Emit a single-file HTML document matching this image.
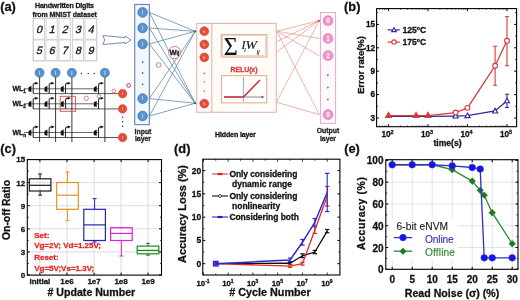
<!DOCTYPE html>
<html><head><meta charset="utf-8"><style>
html,body{margin:0;padding:0;background:#fff;}
svg{display:block;filter:blur(0.3px);}
text{font-family:"Liberation Sans", Arial, sans-serif;}
</style></head><body>
<svg width="520" height="300" viewBox="0 0 520 300">
<rect width="520" height="300" fill="#fff"/>
<rect x="376.60" y="8.60" width="140.00" height="118.10" stroke="#000" stroke-width="1.1" fill="none" />
<line x1="376.60" y1="118.00" x2="379.10" y2="118.00" stroke="#000" stroke-width="1" />
<line x1="516.60" y1="118.00" x2="514.10" y2="118.00" stroke="#000" stroke-width="1" />
<text x="375.00" y="120.70" font-size="8.2" text-anchor="end" fill="#111" font-weight="bold" stroke="#111" stroke-width="0.28" >3</text>
<line x1="376.60" y1="94.60" x2="379.10" y2="94.60" stroke="#000" stroke-width="1" />
<line x1="516.60" y1="94.60" x2="514.10" y2="94.60" stroke="#000" stroke-width="1" />
<text x="375.00" y="97.30" font-size="8.2" text-anchor="end" fill="#111" font-weight="bold" stroke="#111" stroke-width="0.28" >6</text>
<line x1="376.60" y1="71.20" x2="379.10" y2="71.20" stroke="#000" stroke-width="1" />
<line x1="516.60" y1="71.20" x2="514.10" y2="71.20" stroke="#000" stroke-width="1" />
<text x="375.00" y="73.90" font-size="8.2" text-anchor="end" fill="#111" font-weight="bold" stroke="#111" stroke-width="0.28" >9</text>
<line x1="376.60" y1="47.80" x2="379.10" y2="47.80" stroke="#000" stroke-width="1" />
<line x1="516.60" y1="47.80" x2="514.10" y2="47.80" stroke="#000" stroke-width="1" />
<text x="375.00" y="50.50" font-size="8.2" text-anchor="end" fill="#111" font-weight="bold" stroke="#111" stroke-width="0.28" >12</text>
<line x1="376.60" y1="24.40" x2="379.10" y2="24.40" stroke="#000" stroke-width="1" />
<line x1="516.60" y1="24.40" x2="514.10" y2="24.40" stroke="#000" stroke-width="1" />
<text x="375.00" y="27.10" font-size="8.2" text-anchor="end" fill="#111" font-weight="bold" stroke="#111" stroke-width="0.28" >15</text>
<line x1="376.60" y1="106.30" x2="378.10" y2="106.30" stroke="#000" stroke-width="0.8" />
<line x1="516.60" y1="106.30" x2="515.10" y2="106.30" stroke="#000" stroke-width="0.8" />
<line x1="376.60" y1="82.90" x2="378.10" y2="82.90" stroke="#000" stroke-width="0.8" />
<line x1="516.60" y1="82.90" x2="515.10" y2="82.90" stroke="#000" stroke-width="0.8" />
<line x1="376.60" y1="59.50" x2="378.10" y2="59.50" stroke="#000" stroke-width="0.8" />
<line x1="516.60" y1="59.50" x2="515.10" y2="59.50" stroke="#000" stroke-width="0.8" />
<line x1="376.60" y1="36.10" x2="378.10" y2="36.10" stroke="#000" stroke-width="0.8" />
<line x1="516.60" y1="36.10" x2="515.10" y2="36.10" stroke="#000" stroke-width="0.8" />
<line x1="376.60" y1="12.70" x2="378.10" y2="12.70" stroke="#000" stroke-width="0.8" />
<line x1="516.60" y1="12.70" x2="515.10" y2="12.70" stroke="#000" stroke-width="0.8" />
<line x1="388.50" y1="126.70" x2="388.50" y2="124.20" stroke="#000" stroke-width="1" />
<line x1="388.50" y1="8.60" x2="388.50" y2="11.10" stroke="#000" stroke-width="1" />
<text x="387.50" y="137.30" font-size="8.2" text-anchor="middle" fill="#111" font-weight="bold" stroke="#111" stroke-width="0.28" >10<tspan font-size="5.5" dy="-3.5">2</tspan></text>
<line x1="428.00" y1="126.70" x2="428.00" y2="124.20" stroke="#000" stroke-width="1" />
<line x1="428.00" y1="8.60" x2="428.00" y2="11.10" stroke="#000" stroke-width="1" />
<text x="427.00" y="137.30" font-size="8.2" text-anchor="middle" fill="#111" font-weight="bold" stroke="#111" stroke-width="0.28" >10<tspan font-size="5.5" dy="-3.5">3</tspan></text>
<line x1="467.50" y1="126.70" x2="467.50" y2="124.20" stroke="#000" stroke-width="1" />
<line x1="467.50" y1="8.60" x2="467.50" y2="11.10" stroke="#000" stroke-width="1" />
<text x="466.50" y="137.30" font-size="8.2" text-anchor="middle" fill="#111" font-weight="bold" stroke="#111" stroke-width="0.28" >10<tspan font-size="5.5" dy="-3.5">4</tspan></text>
<line x1="507.00" y1="126.70" x2="507.00" y2="124.20" stroke="#000" stroke-width="1" />
<line x1="507.00" y1="8.60" x2="507.00" y2="11.10" stroke="#000" stroke-width="1" />
<text x="506.00" y="137.30" font-size="8.2" text-anchor="middle" fill="#111" font-weight="bold" stroke="#111" stroke-width="0.28" >10<tspan font-size="5.5" dy="-3.5">5</tspan></text>
<line x1="376.61" y1="126.70" x2="376.61" y2="125.40" stroke="#000" stroke-width="0.6" />
<line x1="376.61" y1="8.60" x2="376.61" y2="9.90" stroke="#000" stroke-width="0.6" />
<line x1="379.74" y1="126.70" x2="379.74" y2="125.40" stroke="#000" stroke-width="0.6" />
<line x1="379.74" y1="8.60" x2="379.74" y2="9.90" stroke="#000" stroke-width="0.6" />
<line x1="382.38" y1="126.70" x2="382.38" y2="125.40" stroke="#000" stroke-width="0.6" />
<line x1="382.38" y1="8.60" x2="382.38" y2="9.90" stroke="#000" stroke-width="0.6" />
<line x1="384.67" y1="126.70" x2="384.67" y2="125.40" stroke="#000" stroke-width="0.6" />
<line x1="384.67" y1="8.60" x2="384.67" y2="9.90" stroke="#000" stroke-width="0.6" />
<line x1="386.69" y1="126.70" x2="386.69" y2="125.40" stroke="#000" stroke-width="0.6" />
<line x1="386.69" y1="8.60" x2="386.69" y2="9.90" stroke="#000" stroke-width="0.6" />
<line x1="400.39" y1="126.70" x2="400.39" y2="125.40" stroke="#000" stroke-width="0.6" />
<line x1="400.39" y1="8.60" x2="400.39" y2="9.90" stroke="#000" stroke-width="0.6" />
<line x1="407.35" y1="126.70" x2="407.35" y2="125.40" stroke="#000" stroke-width="0.6" />
<line x1="407.35" y1="8.60" x2="407.35" y2="9.90" stroke="#000" stroke-width="0.6" />
<line x1="412.28" y1="126.70" x2="412.28" y2="125.40" stroke="#000" stroke-width="0.6" />
<line x1="412.28" y1="8.60" x2="412.28" y2="9.90" stroke="#000" stroke-width="0.6" />
<line x1="416.11" y1="126.70" x2="416.11" y2="125.40" stroke="#000" stroke-width="0.6" />
<line x1="416.11" y1="8.60" x2="416.11" y2="9.90" stroke="#000" stroke-width="0.6" />
<line x1="419.24" y1="126.70" x2="419.24" y2="125.40" stroke="#000" stroke-width="0.6" />
<line x1="419.24" y1="8.60" x2="419.24" y2="9.90" stroke="#000" stroke-width="0.6" />
<line x1="421.88" y1="126.70" x2="421.88" y2="125.40" stroke="#000" stroke-width="0.6" />
<line x1="421.88" y1="8.60" x2="421.88" y2="9.90" stroke="#000" stroke-width="0.6" />
<line x1="424.17" y1="126.70" x2="424.17" y2="125.40" stroke="#000" stroke-width="0.6" />
<line x1="424.17" y1="8.60" x2="424.17" y2="9.90" stroke="#000" stroke-width="0.6" />
<line x1="426.19" y1="126.70" x2="426.19" y2="125.40" stroke="#000" stroke-width="0.6" />
<line x1="426.19" y1="8.60" x2="426.19" y2="9.90" stroke="#000" stroke-width="0.6" />
<line x1="439.89" y1="126.70" x2="439.89" y2="125.40" stroke="#000" stroke-width="0.6" />
<line x1="439.89" y1="8.60" x2="439.89" y2="9.90" stroke="#000" stroke-width="0.6" />
<line x1="446.85" y1="126.70" x2="446.85" y2="125.40" stroke="#000" stroke-width="0.6" />
<line x1="446.85" y1="8.60" x2="446.85" y2="9.90" stroke="#000" stroke-width="0.6" />
<line x1="451.78" y1="126.70" x2="451.78" y2="125.40" stroke="#000" stroke-width="0.6" />
<line x1="451.78" y1="8.60" x2="451.78" y2="9.90" stroke="#000" stroke-width="0.6" />
<line x1="455.61" y1="126.70" x2="455.61" y2="125.40" stroke="#000" stroke-width="0.6" />
<line x1="455.61" y1="8.60" x2="455.61" y2="9.90" stroke="#000" stroke-width="0.6" />
<line x1="458.74" y1="126.70" x2="458.74" y2="125.40" stroke="#000" stroke-width="0.6" />
<line x1="458.74" y1="8.60" x2="458.74" y2="9.90" stroke="#000" stroke-width="0.6" />
<line x1="461.38" y1="126.70" x2="461.38" y2="125.40" stroke="#000" stroke-width="0.6" />
<line x1="461.38" y1="8.60" x2="461.38" y2="9.90" stroke="#000" stroke-width="0.6" />
<line x1="463.67" y1="126.70" x2="463.67" y2="125.40" stroke="#000" stroke-width="0.6" />
<line x1="463.67" y1="8.60" x2="463.67" y2="9.90" stroke="#000" stroke-width="0.6" />
<line x1="465.69" y1="126.70" x2="465.69" y2="125.40" stroke="#000" stroke-width="0.6" />
<line x1="465.69" y1="8.60" x2="465.69" y2="9.90" stroke="#000" stroke-width="0.6" />
<line x1="479.39" y1="126.70" x2="479.39" y2="125.40" stroke="#000" stroke-width="0.6" />
<line x1="479.39" y1="8.60" x2="479.39" y2="9.90" stroke="#000" stroke-width="0.6" />
<line x1="486.35" y1="126.70" x2="486.35" y2="125.40" stroke="#000" stroke-width="0.6" />
<line x1="486.35" y1="8.60" x2="486.35" y2="9.90" stroke="#000" stroke-width="0.6" />
<line x1="491.28" y1="126.70" x2="491.28" y2="125.40" stroke="#000" stroke-width="0.6" />
<line x1="491.28" y1="8.60" x2="491.28" y2="9.90" stroke="#000" stroke-width="0.6" />
<line x1="495.11" y1="126.70" x2="495.11" y2="125.40" stroke="#000" stroke-width="0.6" />
<line x1="495.11" y1="8.60" x2="495.11" y2="9.90" stroke="#000" stroke-width="0.6" />
<line x1="498.24" y1="126.70" x2="498.24" y2="125.40" stroke="#000" stroke-width="0.6" />
<line x1="498.24" y1="8.60" x2="498.24" y2="9.90" stroke="#000" stroke-width="0.6" />
<line x1="500.88" y1="126.70" x2="500.88" y2="125.40" stroke="#000" stroke-width="0.6" />
<line x1="500.88" y1="8.60" x2="500.88" y2="9.90" stroke="#000" stroke-width="0.6" />
<line x1="503.17" y1="126.70" x2="503.17" y2="125.40" stroke="#000" stroke-width="0.6" />
<line x1="503.17" y1="8.60" x2="503.17" y2="9.90" stroke="#000" stroke-width="0.6" />
<line x1="505.19" y1="126.70" x2="505.19" y2="125.40" stroke="#000" stroke-width="0.6" />
<line x1="505.19" y1="8.60" x2="505.19" y2="9.90" stroke="#000" stroke-width="0.6" />
<text x="447.50" y="146.00" font-size="8.6" text-anchor="middle" fill="#111" font-weight="bold" stroke="#111" stroke-width="0.28" >time(s)</text>
<text x="0.00" y="0.00" font-size="9.5" text-anchor="middle" fill="#111" font-weight="bold" stroke="#111" stroke-width="0.28" transform="translate(364,65) rotate(-90)" textLength="58">Error rate(%)</text>
<line x1="495.11" y1="85.24" x2="495.11" y2="46.24" stroke="#d83a3a" stroke-width="1.1" />
<line x1="493.11" y1="85.24" x2="497.11" y2="85.24" stroke="#d83a3a" stroke-width="1" />
<line x1="493.11" y1="46.24" x2="497.11" y2="46.24" stroke="#d83a3a" stroke-width="1" />
<line x1="507.00" y1="65.74" x2="507.00" y2="16.60" stroke="#d83a3a" stroke-width="1.1" />
<line x1="505.00" y1="65.74" x2="509.00" y2="65.74" stroke="#d83a3a" stroke-width="1" />
<line x1="505.00" y1="16.60" x2="509.00" y2="16.60" stroke="#d83a3a" stroke-width="1" />
<line x1="507.00" y1="107.47" x2="507.00" y2="94.21" stroke="#2b2b9c" stroke-width="1.1" />
<line x1="505.00" y1="107.47" x2="509.00" y2="107.47" stroke="#2b2b9c" stroke-width="1" />
<line x1="505.00" y1="94.21" x2="509.00" y2="94.21" stroke="#2b2b9c" stroke-width="1" />
<polyline points="388.50,116.44 416.11,116.44 428.00,116.44 455.61,116.05 467.50,115.66 495.11,110.98 507.00,100.84" stroke="#2b2b9c" stroke-width="1.3" fill="none" />
<polygon points="455.61,113.45 458.21,118.00 453.01,118.00" stroke="#2b2b9c" stroke-width="1.1" fill="#fff"/>
<polygon points="467.50,113.06 470.10,117.61 464.90,117.61" stroke="#2b2b9c" stroke-width="1.1" fill="#fff"/>
<polygon points="495.11,108.38 497.71,112.93 492.51,112.93" stroke="#2b2b9c" stroke-width="1.1" fill="#fff"/>
<polygon points="507.00,98.24 509.60,102.79 504.40,102.79" stroke="#2b2b9c" stroke-width="1.1" fill="#fff"/>
<polyline points="388.50,115.66 416.11,115.66 428.00,115.66 455.61,112.54 467.50,107.86 495.11,65.74 507.00,40.78" stroke="#d83a3a" stroke-width="1.3" fill="none" />
<circle cx="455.61" cy="112.54" r="2.40" stroke="#d83a3a" stroke-width="1.1" fill="#fff" />
<circle cx="467.50" cy="107.86" r="2.40" stroke="#d83a3a" stroke-width="1.1" fill="#fff" />
<circle cx="495.11" cy="65.74" r="2.40" stroke="#d83a3a" stroke-width="1.1" fill="#fff" />
<circle cx="507.00" cy="40.78" r="2.40" stroke="#d83a3a" stroke-width="1.1" fill="#fff" />
<polygon points="388.50,112.46 391.40,117.53 385.60,117.53" stroke="#d23a3a" stroke-width="1.1" fill="#d83a3a"/>
<polygon points="416.11,112.46 419.01,117.53 413.21,117.53" stroke="#d23a3a" stroke-width="1.1" fill="#d83a3a"/>
<polygon points="428.00,112.46 430.90,117.53 425.10,117.53" stroke="#d23a3a" stroke-width="1.1" fill="#d83a3a"/>
<line x1="387.60" y1="29.90" x2="399.80" y2="29.90" stroke="#2b2b9c" stroke-width="1.2" />
<polygon points="394.00,27.60 396.30,31.62 391.70,31.62" stroke="#2b2b9c" stroke-width="1.1" fill="#fff"/>
<text x="402.50" y="33.00" font-size="8.6" text-anchor="start" fill="#111" font-weight="bold" stroke="#111" stroke-width="0.28" >125<tspan font-size="5.2" dy="-3.4">o</tspan><tspan dy="3.4">C</tspan></text>
<line x1="387.60" y1="42.10" x2="399.80" y2="42.10" stroke="#d83a3a" stroke-width="1.2" />
<circle cx="394.00" cy="42.10" r="2.20" stroke="#d83a3a" stroke-width="1.1" fill="#fff" />
<text x="402.50" y="45.20" font-size="8.6" text-anchor="start" fill="#111" font-weight="bold" stroke="#111" stroke-width="0.28" >175<tspan font-size="5.2" dy="-3.4">o</tspan><tspan dy="3.4">C</tspan></text>
<text x="344.10" y="10.80" font-size="12.8" text-anchor="start" fill="#111" font-weight="bold" stroke="#111" stroke-width="0.28" >(b)</text>
<line x1="39.90" y1="159.60" x2="39.90" y2="275.10" stroke="#cfcfcf" stroke-width="0.7" />
<line x1="67.00" y1="159.60" x2="67.00" y2="275.10" stroke="#cfcfcf" stroke-width="0.7" />
<line x1="94.10" y1="159.60" x2="94.10" y2="275.10" stroke="#cfcfcf" stroke-width="0.7" />
<line x1="121.10" y1="159.60" x2="121.10" y2="275.10" stroke="#cfcfcf" stroke-width="0.7" />
<line x1="148.10" y1="159.60" x2="148.10" y2="275.10" stroke="#cfcfcf" stroke-width="0.7" />
<line x1="27.30" y1="251.90" x2="161.50" y2="251.90" stroke="#cfcfcf" stroke-width="0.7" />
<line x1="27.30" y1="228.80" x2="161.50" y2="228.80" stroke="#cfcfcf" stroke-width="0.7" />
<line x1="27.30" y1="205.70" x2="161.50" y2="205.70" stroke="#cfcfcf" stroke-width="0.7" />
<line x1="27.30" y1="182.60" x2="161.50" y2="182.60" stroke="#cfcfcf" stroke-width="0.7" />
<rect x="27.30" y="159.60" width="134.20" height="115.50" stroke="#000" stroke-width="1.1" fill="none" />
<line x1="27.30" y1="275.00" x2="29.80" y2="275.00" stroke="#000" stroke-width="1" />
<line x1="161.50" y1="275.00" x2="159.00" y2="275.00" stroke="#000" stroke-width="1" />
<text x="25.20" y="277.90" font-size="8" text-anchor="end" fill="#111" font-weight="bold" stroke="#111" stroke-width="0.28" >0</text>
<line x1="27.30" y1="251.90" x2="29.80" y2="251.90" stroke="#000" stroke-width="1" />
<line x1="161.50" y1="251.90" x2="159.00" y2="251.90" stroke="#000" stroke-width="1" />
<text x="25.20" y="254.80" font-size="8" text-anchor="end" fill="#111" font-weight="bold" stroke="#111" stroke-width="0.28" >3</text>
<line x1="27.30" y1="228.80" x2="29.80" y2="228.80" stroke="#000" stroke-width="1" />
<line x1="161.50" y1="228.80" x2="159.00" y2="228.80" stroke="#000" stroke-width="1" />
<text x="25.20" y="231.70" font-size="8" text-anchor="end" fill="#111" font-weight="bold" stroke="#111" stroke-width="0.28" >6</text>
<line x1="27.30" y1="205.70" x2="29.80" y2="205.70" stroke="#000" stroke-width="1" />
<line x1="161.50" y1="205.70" x2="159.00" y2="205.70" stroke="#000" stroke-width="1" />
<text x="25.20" y="208.60" font-size="8" text-anchor="end" fill="#111" font-weight="bold" stroke="#111" stroke-width="0.28" >9</text>
<line x1="27.30" y1="182.60" x2="29.80" y2="182.60" stroke="#000" stroke-width="1" />
<line x1="161.50" y1="182.60" x2="159.00" y2="182.60" stroke="#000" stroke-width="1" />
<text x="25.20" y="185.50" font-size="8" text-anchor="end" fill="#111" font-weight="bold" stroke="#111" stroke-width="0.28" >12</text>
<line x1="27.30" y1="159.50" x2="29.80" y2="159.50" stroke="#000" stroke-width="1" />
<line x1="161.50" y1="159.50" x2="159.00" y2="159.50" stroke="#000" stroke-width="1" />
<text x="25.20" y="162.40" font-size="8" text-anchor="end" fill="#111" font-weight="bold" stroke="#111" stroke-width="0.28" >15</text>
<line x1="27.30" y1="263.45" x2="28.80" y2="263.45" stroke="#000" stroke-width="0.8" />
<line x1="161.50" y1="263.45" x2="160.00" y2="263.45" stroke="#000" stroke-width="0.8" />
<line x1="27.30" y1="240.35" x2="28.80" y2="240.35" stroke="#000" stroke-width="0.8" />
<line x1="161.50" y1="240.35" x2="160.00" y2="240.35" stroke="#000" stroke-width="0.8" />
<line x1="27.30" y1="217.25" x2="28.80" y2="217.25" stroke="#000" stroke-width="0.8" />
<line x1="161.50" y1="217.25" x2="160.00" y2="217.25" stroke="#000" stroke-width="0.8" />
<line x1="27.30" y1="194.15" x2="28.80" y2="194.15" stroke="#000" stroke-width="0.8" />
<line x1="161.50" y1="194.15" x2="160.00" y2="194.15" stroke="#000" stroke-width="0.8" />
<line x1="27.30" y1="171.05" x2="28.80" y2="171.05" stroke="#000" stroke-width="0.8" />
<line x1="161.50" y1="171.05" x2="160.00" y2="171.05" stroke="#000" stroke-width="0.8" />
<line x1="39.90" y1="159.60" x2="39.90" y2="162.10" stroke="#000" stroke-width="1" />
<line x1="39.90" y1="275.10" x2="39.90" y2="272.60" stroke="#000" stroke-width="1" />
<line x1="67.00" y1="159.60" x2="67.00" y2="162.10" stroke="#000" stroke-width="1" />
<line x1="67.00" y1="275.10" x2="67.00" y2="272.60" stroke="#000" stroke-width="1" />
<line x1="94.10" y1="159.60" x2="94.10" y2="162.10" stroke="#000" stroke-width="1" />
<line x1="94.10" y1="275.10" x2="94.10" y2="272.60" stroke="#000" stroke-width="1" />
<line x1="121.10" y1="159.60" x2="121.10" y2="162.10" stroke="#000" stroke-width="1" />
<line x1="121.10" y1="275.10" x2="121.10" y2="272.60" stroke="#000" stroke-width="1" />
<line x1="148.10" y1="159.60" x2="148.10" y2="162.10" stroke="#000" stroke-width="1" />
<line x1="148.10" y1="275.10" x2="148.10" y2="272.60" stroke="#000" stroke-width="1" />
<text x="39.90" y="284.20" font-size="8" text-anchor="middle" fill="#111" font-weight="bold" stroke="#111" stroke-width="0.28" >initial</text>
<text x="67.00" y="284.20" font-size="8" text-anchor="middle" fill="#111" font-weight="bold" stroke="#111" stroke-width="0.28" >1e6</text>
<text x="94.10" y="284.20" font-size="8" text-anchor="middle" fill="#111" font-weight="bold" stroke="#111" stroke-width="0.28" >1e7</text>
<text x="121.10" y="284.20" font-size="8" text-anchor="middle" fill="#111" font-weight="bold" stroke="#111" stroke-width="0.28" >1e8</text>
<text x="148.10" y="284.20" font-size="8" text-anchor="middle" fill="#111" font-weight="bold" stroke="#111" stroke-width="0.28" >1e9</text>
<text x="91.40" y="296.00" font-size="10.6" text-anchor="middle" fill="#111" font-weight="bold" stroke="#111" stroke-width="0.28" ># Update Number</text>
<text x="0.00" y="0.00" font-size="10.4" text-anchor="middle" fill="#111" font-weight="bold" stroke="#111" stroke-width="0.28" transform="translate(10,210) rotate(-90)">On-off Ratio</text>
<line x1="40.10" y1="174.00" x2="40.10" y2="178.80" stroke="#1a1a1a" stroke-width="1" />
<line x1="40.10" y1="191.00" x2="40.10" y2="195.20" stroke="#1a1a1a" stroke-width="1" />
<line x1="38.10" y1="174.00" x2="42.10" y2="174.00" stroke="#1a1a1a" stroke-width="1" />
<line x1="38.10" y1="195.20" x2="42.10" y2="195.20" stroke="#1a1a1a" stroke-width="1" />
<rect x="29.30" y="178.80" width="21.60" height="12.20" stroke="#1a1a1a" stroke-width="1.2" fill="none" />
<line x1="29.30" y1="185.30" x2="50.90" y2="185.30" stroke="#1a1a1a" stroke-width="1.2" />
<line x1="67.50" y1="172.00" x2="67.50" y2="182.50" stroke="#e8921e" stroke-width="1" />
<line x1="67.50" y1="209.30" x2="67.50" y2="220.70" stroke="#e8921e" stroke-width="1" />
<line x1="65.50" y1="172.00" x2="69.50" y2="172.00" stroke="#e8921e" stroke-width="1" />
<line x1="65.50" y1="220.70" x2="69.50" y2="220.70" stroke="#e8921e" stroke-width="1" />
<rect x="56.70" y="182.50" width="21.60" height="26.80" stroke="#e8921e" stroke-width="1.2" fill="none" />
<line x1="56.70" y1="195.20" x2="78.30" y2="195.20" stroke="#e8921e" stroke-width="1.2" />
<line x1="94.60" y1="198.60" x2="94.60" y2="209.30" stroke="#2424b8" stroke-width="1" />
<line x1="94.60" y1="240.50" x2="94.60" y2="242.00" stroke="#2424b8" stroke-width="1" />
<line x1="92.60" y1="198.60" x2="96.60" y2="198.60" stroke="#2424b8" stroke-width="1" />
<line x1="92.60" y1="242.00" x2="96.60" y2="242.00" stroke="#2424b8" stroke-width="1" />
<rect x="83.80" y="209.30" width="21.60" height="31.20" stroke="#2424b8" stroke-width="1.2" fill="none" />
<line x1="83.80" y1="224.90" x2="105.40" y2="224.90" stroke="#2424b8" stroke-width="1.2" />
<line x1="121.40" y1="227.70" x2="121.40" y2="227.70" stroke="#e020e0" stroke-width="1" />
<line x1="121.40" y1="240.50" x2="121.40" y2="256.00" stroke="#e020e0" stroke-width="1" />
<line x1="119.40" y1="227.70" x2="123.40" y2="227.70" stroke="#e020e0" stroke-width="1" />
<line x1="119.40" y1="256.00" x2="123.40" y2="256.00" stroke="#e020e0" stroke-width="1" />
<rect x="110.60" y="227.70" width="21.60" height="12.80" stroke="#e020e0" stroke-width="1.2" fill="none" />
<line x1="110.60" y1="233.40" x2="132.20" y2="233.40" stroke="#e020e0" stroke-width="1.2" />
<line x1="148.00" y1="243.30" x2="148.00" y2="246.10" stroke="#1e8a1e" stroke-width="1" />
<line x1="148.00" y1="253.80" x2="148.00" y2="255.20" stroke="#1e8a1e" stroke-width="1" />
<line x1="146.00" y1="243.30" x2="150.00" y2="243.30" stroke="#1e8a1e" stroke-width="1" />
<line x1="146.00" y1="255.20" x2="150.00" y2="255.20" stroke="#1e8a1e" stroke-width="1" />
<rect x="137.20" y="246.10" width="21.60" height="7.70" stroke="#1e8a1e" stroke-width="1.2" fill="none" />
<line x1="137.20" y1="250.40" x2="158.80" y2="250.40" stroke="#1e8a1e" stroke-width="1.2" />
<text x="34.20" y="238.20" font-size="8" text-anchor="start" fill="#e02a2a" font-weight="bold" stroke="#e02a2a" stroke-width="0.28" >Set:</text>
<text x="34.20" y="248.40" font-size="8" text-anchor="start" fill="#e02a2a" font-weight="bold" stroke="#e02a2a" stroke-width="0.28" textLength="66.8">Vg=2V; Vd=1.25V;</text>
<text x="34.20" y="260.10" font-size="8" text-anchor="start" fill="#e02a2a" font-weight="bold" stroke="#e02a2a" stroke-width="0.28" >Reset:</text>
<text x="34.20" y="270.70" font-size="8" text-anchor="start" fill="#e02a2a" font-weight="bold" stroke="#e02a2a" stroke-width="0.28" >Vg=5V;Vs=1.3V;</text>
<text x="0.30" y="152.80" font-size="12.8" text-anchor="start" fill="#111" font-weight="bold" stroke="#111" stroke-width="0.28" >(c)</text>
<rect x="202.80" y="159.20" width="137.10" height="115.80" stroke="#000" stroke-width="1.1" fill="none" />
<line x1="202.80" y1="263.70" x2="205.30" y2="263.70" stroke="#000" stroke-width="1" />
<line x1="339.90" y1="263.70" x2="337.40" y2="263.70" stroke="#000" stroke-width="1" />
<text x="201.20" y="266.70" font-size="8.5" text-anchor="end" fill="#111" font-weight="bold" stroke="#111" stroke-width="0.28" >0</text>
<line x1="202.80" y1="240.42" x2="205.30" y2="240.42" stroke="#000" stroke-width="1" />
<line x1="339.90" y1="240.42" x2="337.40" y2="240.42" stroke="#000" stroke-width="1" />
<text x="201.20" y="243.42" font-size="8.5" text-anchor="end" fill="#111" font-weight="bold" stroke="#111" stroke-width="0.28" >5</text>
<line x1="202.80" y1="217.15" x2="205.30" y2="217.15" stroke="#000" stroke-width="1" />
<line x1="339.90" y1="217.15" x2="337.40" y2="217.15" stroke="#000" stroke-width="1" />
<text x="201.20" y="220.15" font-size="8.5" text-anchor="end" fill="#111" font-weight="bold" stroke="#111" stroke-width="0.28" >10</text>
<line x1="202.80" y1="193.88" x2="205.30" y2="193.88" stroke="#000" stroke-width="1" />
<line x1="339.90" y1="193.88" x2="337.40" y2="193.88" stroke="#000" stroke-width="1" />
<text x="201.20" y="196.88" font-size="8.5" text-anchor="end" fill="#111" font-weight="bold" stroke="#111" stroke-width="0.28" >15</text>
<line x1="202.80" y1="170.60" x2="205.30" y2="170.60" stroke="#000" stroke-width="1" />
<line x1="339.90" y1="170.60" x2="337.40" y2="170.60" stroke="#000" stroke-width="1" />
<text x="201.20" y="173.60" font-size="8.5" text-anchor="end" fill="#111" font-weight="bold" stroke="#111" stroke-width="0.28" >20</text>
<line x1="202.80" y1="252.06" x2="204.30" y2="252.06" stroke="#000" stroke-width="0.8" />
<line x1="339.90" y1="252.06" x2="338.40" y2="252.06" stroke="#000" stroke-width="0.8" />
<line x1="202.80" y1="228.79" x2="204.30" y2="228.79" stroke="#000" stroke-width="0.8" />
<line x1="339.90" y1="228.79" x2="338.40" y2="228.79" stroke="#000" stroke-width="0.8" />
<line x1="202.80" y1="205.51" x2="204.30" y2="205.51" stroke="#000" stroke-width="0.8" />
<line x1="339.90" y1="205.51" x2="338.40" y2="205.51" stroke="#000" stroke-width="0.8" />
<line x1="202.80" y1="182.24" x2="204.30" y2="182.24" stroke="#000" stroke-width="0.8" />
<line x1="339.90" y1="182.24" x2="338.40" y2="182.24" stroke="#000" stroke-width="0.8" />
<line x1="203.40" y1="275.00" x2="203.40" y2="272.50" stroke="#000" stroke-width="0.8" />
<line x1="203.40" y1="159.20" x2="203.40" y2="161.70" stroke="#000" stroke-width="0.8" />
<line x1="215.78" y1="275.00" x2="215.78" y2="273.50" stroke="#000" stroke-width="0.8" />
<line x1="215.78" y1="159.20" x2="215.78" y2="160.70" stroke="#000" stroke-width="0.8" />
<line x1="228.16" y1="275.00" x2="228.16" y2="272.50" stroke="#000" stroke-width="0.8" />
<line x1="228.16" y1="159.20" x2="228.16" y2="161.70" stroke="#000" stroke-width="0.8" />
<line x1="240.54" y1="275.00" x2="240.54" y2="273.50" stroke="#000" stroke-width="0.8" />
<line x1="240.54" y1="159.20" x2="240.54" y2="160.70" stroke="#000" stroke-width="0.8" />
<line x1="252.92" y1="275.00" x2="252.92" y2="272.50" stroke="#000" stroke-width="0.8" />
<line x1="252.92" y1="159.20" x2="252.92" y2="161.70" stroke="#000" stroke-width="0.8" />
<line x1="265.30" y1="275.00" x2="265.30" y2="273.50" stroke="#000" stroke-width="0.8" />
<line x1="265.30" y1="159.20" x2="265.30" y2="160.70" stroke="#000" stroke-width="0.8" />
<line x1="277.68" y1="275.00" x2="277.68" y2="272.50" stroke="#000" stroke-width="0.8" />
<line x1="277.68" y1="159.20" x2="277.68" y2="161.70" stroke="#000" stroke-width="0.8" />
<line x1="290.06" y1="275.00" x2="290.06" y2="273.50" stroke="#000" stroke-width="0.8" />
<line x1="290.06" y1="159.20" x2="290.06" y2="160.70" stroke="#000" stroke-width="0.8" />
<line x1="302.44" y1="275.00" x2="302.44" y2="272.50" stroke="#000" stroke-width="0.8" />
<line x1="302.44" y1="159.20" x2="302.44" y2="161.70" stroke="#000" stroke-width="0.8" />
<line x1="314.82" y1="275.00" x2="314.82" y2="273.50" stroke="#000" stroke-width="0.8" />
<line x1="314.82" y1="159.20" x2="314.82" y2="160.70" stroke="#000" stroke-width="0.8" />
<line x1="327.20" y1="275.00" x2="327.20" y2="272.50" stroke="#000" stroke-width="0.8" />
<line x1="327.20" y1="159.20" x2="327.20" y2="161.70" stroke="#000" stroke-width="0.8" />
<text x="203.10" y="286.00" font-size="7.8" text-anchor="middle" fill="#111" font-weight="bold" stroke="#111" stroke-width="0.28" >10<tspan font-size="5" dy="-3.5">-1</tspan></text>
<text x="227.86" y="286.00" font-size="7.8" text-anchor="middle" fill="#111" font-weight="bold" stroke="#111" stroke-width="0.28" >10<tspan font-size="5" dy="-3.5">1</tspan></text>
<text x="252.62" y="286.00" font-size="7.8" text-anchor="middle" fill="#111" font-weight="bold" stroke="#111" stroke-width="0.28" >10<tspan font-size="5" dy="-3.5">3</tspan></text>
<text x="277.38" y="286.00" font-size="7.8" text-anchor="middle" fill="#111" font-weight="bold" stroke="#111" stroke-width="0.28" >10<tspan font-size="5" dy="-3.5">5</tspan></text>
<text x="302.14" y="286.00" font-size="7.8" text-anchor="middle" fill="#111" font-weight="bold" stroke="#111" stroke-width="0.28" >10<tspan font-size="5" dy="-3.5">7</tspan></text>
<text x="326.90" y="286.00" font-size="7.8" text-anchor="middle" fill="#111" font-weight="bold" stroke="#111" stroke-width="0.28" >10<tspan font-size="5" dy="-3.5">9</tspan></text>
<text x="270.00" y="296.00" font-size="10.8" text-anchor="middle" fill="#111" font-weight="bold" stroke="#111" stroke-width="0.28" ># Cycle Number</text>
<text x="0.00" y="0.00" font-size="11" text-anchor="middle" fill="#111" font-weight="bold" stroke="#111" stroke-width="0.28" transform="translate(186.3,214) rotate(-90)" textLength="98">Accuracy Loss (%)</text>
<line x1="215.78" y1="264.63" x2="215.78" y2="262.77" stroke="#111" stroke-width="1.1" />
<line x1="213.58" y1="264.63" x2="217.98" y2="264.63" stroke="#111" stroke-width="1.2" />
<line x1="213.58" y1="262.77" x2="217.98" y2="262.77" stroke="#111" stroke-width="1.2" />
<line x1="290.06" y1="264.63" x2="290.06" y2="261.84" stroke="#111" stroke-width="1.1" />
<line x1="287.86" y1="264.63" x2="292.26" y2="264.63" stroke="#111" stroke-width="1.2" />
<line x1="287.86" y1="261.84" x2="292.26" y2="261.84" stroke="#111" stroke-width="1.2" />
<line x1="302.44" y1="257.65" x2="302.44" y2="253.92" stroke="#111" stroke-width="1.1" />
<line x1="300.24" y1="257.65" x2="304.64" y2="257.65" stroke="#111" stroke-width="1.2" />
<line x1="300.24" y1="253.92" x2="304.64" y2="253.92" stroke="#111" stroke-width="1.2" />
<line x1="314.82" y1="253.69" x2="314.82" y2="250.43" stroke="#111" stroke-width="1.1" />
<line x1="312.62" y1="253.69" x2="317.02" y2="253.69" stroke="#111" stroke-width="1.2" />
<line x1="312.62" y1="250.43" x2="317.02" y2="250.43" stroke="#111" stroke-width="1.2" />
<line x1="327.20" y1="232.74" x2="327.20" y2="229.49" stroke="#111" stroke-width="1.1" />
<line x1="325.00" y1="232.74" x2="329.40" y2="232.74" stroke="#111" stroke-width="1.2" />
<line x1="325.00" y1="229.49" x2="329.40" y2="229.49" stroke="#111" stroke-width="1.2" />
<line x1="215.78" y1="264.63" x2="215.78" y2="262.77" stroke="#e02a2a" stroke-width="1.1" />
<line x1="213.58" y1="264.63" x2="217.98" y2="264.63" stroke="#e02a2a" stroke-width="1.2" />
<line x1="213.58" y1="262.77" x2="217.98" y2="262.77" stroke="#e02a2a" stroke-width="1.2" />
<line x1="290.06" y1="267.42" x2="290.06" y2="264.63" stroke="#e02a2a" stroke-width="1.1" />
<line x1="287.86" y1="267.42" x2="292.26" y2="267.42" stroke="#e02a2a" stroke-width="1.2" />
<line x1="287.86" y1="264.63" x2="292.26" y2="264.63" stroke="#e02a2a" stroke-width="1.2" />
<line x1="302.44" y1="265.10" x2="302.44" y2="262.30" stroke="#e02a2a" stroke-width="1.1" />
<line x1="300.24" y1="265.10" x2="304.64" y2="265.10" stroke="#e02a2a" stroke-width="1.2" />
<line x1="300.24" y1="262.30" x2="304.64" y2="262.30" stroke="#e02a2a" stroke-width="1.2" />
<line x1="314.82" y1="233.44" x2="314.82" y2="226.93" stroke="#e02a2a" stroke-width="1.1" />
<line x1="312.62" y1="233.44" x2="317.02" y2="233.44" stroke="#e02a2a" stroke-width="1.2" />
<line x1="312.62" y1="226.93" x2="317.02" y2="226.93" stroke="#e02a2a" stroke-width="1.2" />
<line x1="327.20" y1="205.98" x2="327.20" y2="186.43" stroke="#e02a2a" stroke-width="1.1" />
<line x1="325.00" y1="205.98" x2="329.40" y2="205.98" stroke="#e02a2a" stroke-width="1.2" />
<line x1="325.00" y1="186.43" x2="329.40" y2="186.43" stroke="#e02a2a" stroke-width="1.2" />
<line x1="215.78" y1="264.63" x2="215.78" y2="262.77" stroke="#2a2ad0" stroke-width="1.1" />
<line x1="213.58" y1="264.63" x2="217.98" y2="264.63" stroke="#2a2ad0" stroke-width="1.2" />
<line x1="213.58" y1="262.77" x2="217.98" y2="262.77" stroke="#2a2ad0" stroke-width="1.2" />
<line x1="290.06" y1="261.84" x2="290.06" y2="258.11" stroke="#2a2ad0" stroke-width="1.1" />
<line x1="287.86" y1="261.84" x2="292.26" y2="261.84" stroke="#2a2ad0" stroke-width="1.2" />
<line x1="287.86" y1="258.11" x2="292.26" y2="258.11" stroke="#2a2ad0" stroke-width="1.2" />
<line x1="302.44" y1="245.08" x2="302.44" y2="239.49" stroke="#2a2ad0" stroke-width="1.1" />
<line x1="300.24" y1="245.08" x2="304.64" y2="245.08" stroke="#2a2ad0" stroke-width="1.2" />
<line x1="300.24" y1="239.49" x2="304.64" y2="239.49" stroke="#2a2ad0" stroke-width="1.2" />
<line x1="314.82" y1="225.99" x2="314.82" y2="218.55" stroke="#2a2ad0" stroke-width="1.1" />
<line x1="312.62" y1="225.99" x2="317.02" y2="225.99" stroke="#2a2ad0" stroke-width="1.2" />
<line x1="312.62" y1="218.55" x2="317.02" y2="218.55" stroke="#2a2ad0" stroke-width="1.2" />
<line x1="327.20" y1="211.56" x2="327.20" y2="173.39" stroke="#2a2ad0" stroke-width="1.1" />
<line x1="325.00" y1="211.56" x2="329.40" y2="211.56" stroke="#2a2ad0" stroke-width="1.2" />
<line x1="325.00" y1="173.39" x2="329.40" y2="173.39" stroke="#2a2ad0" stroke-width="1.2" />
<polyline points="215.78,263.70 290.06,263.23 302.44,255.79 314.82,252.06 327.20,231.11" stroke="#111" stroke-width="1.3" fill="none" />
<polyline points="215.78,263.70 290.06,266.03 302.44,263.70 314.82,230.18 327.20,196.20" stroke="#e02a2a" stroke-width="1.3" fill="none" />
<polyline points="215.78,263.70 290.06,259.98 302.44,242.29 314.82,222.27 327.20,192.48" stroke="#2a2ad0" stroke-width="1.5" fill="none" />
<rect x="213.48" y="261.40" width="4.60" height="4.60" stroke="#2a2ad0" stroke-width="1.3" fill="none" />
<line x1="212.00" y1="174.00" x2="228.00" y2="174.00" stroke="#e06060" stroke-width="1.3" />
<line x1="217.50" y1="174.00" x2="222.50" y2="174.00" stroke="#d02020" stroke-width="2.2" />
<text x="229.40" y="177.20" font-size="8.5" text-anchor="start" fill="#111" font-weight="bold" stroke="#111" stroke-width="0.28" textLength="68">Only considering</text>
<text x="232.00" y="187.30" font-size="8.5" text-anchor="start" fill="#111" font-weight="bold" stroke="#111" stroke-width="0.28" >dynamic range</text>
<line x1="212.00" y1="196.00" x2="228.00" y2="196.00" stroke="#333" stroke-width="1.3" />
<circle cx="220.00" cy="196.00" r="1.50" stroke="#333" stroke-width="0.9" fill="#fff" />
<text x="229.40" y="199.20" font-size="8.5" text-anchor="start" fill="#111" font-weight="bold" stroke="#111" stroke-width="0.28" textLength="68">Only considering</text>
<text x="232.00" y="209.30" font-size="8.5" text-anchor="start" fill="#111" font-weight="bold" stroke="#111" stroke-width="0.28" >nonlinearity</text>
<line x1="212.00" y1="217.00" x2="228.00" y2="217.00" stroke="#5050d0" stroke-width="1.3" />
<line x1="217.50" y1="217.00" x2="222.50" y2="217.00" stroke="#2020c0" stroke-width="2.2" />
<text x="229.40" y="220.20" font-size="8.5" text-anchor="start" fill="#111" font-weight="bold" stroke="#111" stroke-width="0.28" textLength="69.5">Considering both</text>
<text x="174.10" y="152.80" font-size="12.8" text-anchor="start" fill="#111" font-weight="bold" stroke="#111" stroke-width="0.28" >(d)</text>
<line x1="392.20" y1="159.70" x2="392.20" y2="269.30" stroke="#d8d8d8" stroke-width="0.7" />
<line x1="412.20" y1="159.70" x2="412.20" y2="269.30" stroke="#d8d8d8" stroke-width="0.7" />
<line x1="432.20" y1="159.70" x2="432.20" y2="269.30" stroke="#d8d8d8" stroke-width="0.7" />
<line x1="452.20" y1="159.70" x2="452.20" y2="269.30" stroke="#d8d8d8" stroke-width="0.7" />
<line x1="472.20" y1="159.70" x2="472.20" y2="269.30" stroke="#d8d8d8" stroke-width="0.7" />
<line x1="492.20" y1="159.70" x2="492.20" y2="269.30" stroke="#d8d8d8" stroke-width="0.7" />
<line x1="512.20" y1="159.70" x2="512.20" y2="269.30" stroke="#d8d8d8" stroke-width="0.7" />
<line x1="385.80" y1="247.52" x2="518.00" y2="247.52" stroke="#d8d8d8" stroke-width="0.7" />
<line x1="385.80" y1="225.74" x2="518.00" y2="225.74" stroke="#d8d8d8" stroke-width="0.7" />
<line x1="385.80" y1="203.96" x2="518.00" y2="203.96" stroke="#d8d8d8" stroke-width="0.7" />
<line x1="385.80" y1="182.18" x2="518.00" y2="182.18" stroke="#d8d8d8" stroke-width="0.7" />
<rect x="385.80" y="159.70" width="132.20" height="109.60" stroke="#000" stroke-width="1.1" fill="none" />
<line x1="385.80" y1="269.30" x2="388.30" y2="269.30" stroke="#000" stroke-width="1" />
<line x1="518.00" y1="269.30" x2="515.50" y2="269.30" stroke="#000" stroke-width="1" />
<text x="383.50" y="273.30" font-size="10" text-anchor="end" fill="#111" font-weight="bold" stroke="#111" stroke-width="0.28" >0</text>
<line x1="385.80" y1="247.52" x2="388.30" y2="247.52" stroke="#000" stroke-width="1" />
<line x1="518.00" y1="247.52" x2="515.50" y2="247.52" stroke="#000" stroke-width="1" />
<text x="383.50" y="251.52" font-size="10" text-anchor="end" fill="#111" font-weight="bold" stroke="#111" stroke-width="0.28" >20</text>
<line x1="385.80" y1="225.74" x2="388.30" y2="225.74" stroke="#000" stroke-width="1" />
<line x1="518.00" y1="225.74" x2="515.50" y2="225.74" stroke="#000" stroke-width="1" />
<text x="383.50" y="229.74" font-size="10" text-anchor="end" fill="#111" font-weight="bold" stroke="#111" stroke-width="0.28" >40</text>
<line x1="385.80" y1="203.96" x2="388.30" y2="203.96" stroke="#000" stroke-width="1" />
<line x1="518.00" y1="203.96" x2="515.50" y2="203.96" stroke="#000" stroke-width="1" />
<text x="383.50" y="207.96" font-size="10" text-anchor="end" fill="#111" font-weight="bold" stroke="#111" stroke-width="0.28" >60</text>
<line x1="385.80" y1="182.18" x2="388.30" y2="182.18" stroke="#000" stroke-width="1" />
<line x1="518.00" y1="182.18" x2="515.50" y2="182.18" stroke="#000" stroke-width="1" />
<text x="383.50" y="186.18" font-size="10" text-anchor="end" fill="#111" font-weight="bold" stroke="#111" stroke-width="0.28" >80</text>
<line x1="385.80" y1="160.40" x2="388.30" y2="160.40" stroke="#000" stroke-width="1" />
<line x1="518.00" y1="160.40" x2="515.50" y2="160.40" stroke="#000" stroke-width="1" />
<text x="383.50" y="164.40" font-size="10" text-anchor="end" fill="#111" font-weight="bold" stroke="#111" stroke-width="0.28" >100</text>
<line x1="385.80" y1="258.41" x2="387.30" y2="258.41" stroke="#000" stroke-width="0.8" />
<line x1="518.00" y1="258.41" x2="516.50" y2="258.41" stroke="#000" stroke-width="0.8" />
<line x1="385.80" y1="236.63" x2="387.30" y2="236.63" stroke="#000" stroke-width="0.8" />
<line x1="518.00" y1="236.63" x2="516.50" y2="236.63" stroke="#000" stroke-width="0.8" />
<line x1="385.80" y1="214.85" x2="387.30" y2="214.85" stroke="#000" stroke-width="0.8" />
<line x1="518.00" y1="214.85" x2="516.50" y2="214.85" stroke="#000" stroke-width="0.8" />
<line x1="385.80" y1="193.07" x2="387.30" y2="193.07" stroke="#000" stroke-width="0.8" />
<line x1="518.00" y1="193.07" x2="516.50" y2="193.07" stroke="#000" stroke-width="0.8" />
<line x1="385.80" y1="171.29" x2="387.30" y2="171.29" stroke="#000" stroke-width="0.8" />
<line x1="518.00" y1="171.29" x2="516.50" y2="171.29" stroke="#000" stroke-width="0.8" />
<line x1="392.20" y1="269.30" x2="392.20" y2="266.80" stroke="#000" stroke-width="1" />
<line x1="392.20" y1="159.70" x2="392.20" y2="162.20" stroke="#000" stroke-width="1" />
<text x="392.20" y="283.20" font-size="10" text-anchor="middle" fill="#111" font-weight="bold" stroke="#111" stroke-width="0.28" >0</text>
<line x1="412.20" y1="269.30" x2="412.20" y2="266.80" stroke="#000" stroke-width="1" />
<line x1="412.20" y1="159.70" x2="412.20" y2="162.20" stroke="#000" stroke-width="1" />
<text x="412.20" y="283.20" font-size="10" text-anchor="middle" fill="#111" font-weight="bold" stroke="#111" stroke-width="0.28" >5</text>
<line x1="432.20" y1="269.30" x2="432.20" y2="266.80" stroke="#000" stroke-width="1" />
<line x1="432.20" y1="159.70" x2="432.20" y2="162.20" stroke="#000" stroke-width="1" />
<text x="432.20" y="283.20" font-size="10" text-anchor="middle" fill="#111" font-weight="bold" stroke="#111" stroke-width="0.28" >10</text>
<line x1="452.20" y1="269.30" x2="452.20" y2="266.80" stroke="#000" stroke-width="1" />
<line x1="452.20" y1="159.70" x2="452.20" y2="162.20" stroke="#000" stroke-width="1" />
<text x="452.20" y="283.20" font-size="10" text-anchor="middle" fill="#111" font-weight="bold" stroke="#111" stroke-width="0.28" >15</text>
<line x1="472.20" y1="269.30" x2="472.20" y2="266.80" stroke="#000" stroke-width="1" />
<line x1="472.20" y1="159.70" x2="472.20" y2="162.20" stroke="#000" stroke-width="1" />
<text x="472.20" y="283.20" font-size="10" text-anchor="middle" fill="#111" font-weight="bold" stroke="#111" stroke-width="0.28" >20</text>
<line x1="492.20" y1="269.30" x2="492.20" y2="266.80" stroke="#000" stroke-width="1" />
<line x1="492.20" y1="159.70" x2="492.20" y2="162.20" stroke="#000" stroke-width="1" />
<text x="492.20" y="283.20" font-size="10" text-anchor="middle" fill="#111" font-weight="bold" stroke="#111" stroke-width="0.28" >25</text>
<line x1="512.20" y1="269.30" x2="512.20" y2="266.80" stroke="#000" stroke-width="1" />
<line x1="512.20" y1="159.70" x2="512.20" y2="162.20" stroke="#000" stroke-width="1" />
<text x="512.20" y="283.20" font-size="10" text-anchor="middle" fill="#111" font-weight="bold" stroke="#111" stroke-width="0.28" >30</text>
<text x="452.00" y="296.50" font-size="10.6" text-anchor="middle" fill="#111" font-weight="bold" stroke="#111" stroke-width="0.28" textLength="94.5">Read Noise (σ) (%)</text>
<text x="0.00" y="0.00" font-size="10.5" text-anchor="middle" fill="#111" font-weight="bold" stroke="#111" stroke-width="0.28" transform="translate(365,213.5) rotate(-90)" textLength="73">Accuracy (%)</text>
<polyline points="392.20,164.76 412.20,164.76 432.20,164.76 452.20,169.66 472.20,181.09 480.20,190.35 484.20,195.25 492.20,212.67 512.20,243.71" stroke="#2a8a2a" stroke-width="1.3" fill="none" />
<polygon points="392.20,161.46 395.50,164.76 392.20,168.06 388.90,164.76" fill="#1a7a1a" stroke="#2a8a2a" stroke-width="0.6"/>
<polygon points="412.20,161.46 415.50,164.76 412.20,168.06 408.90,164.76" fill="#1a7a1a" stroke="#2a8a2a" stroke-width="0.6"/>
<polygon points="432.20,161.46 435.50,164.76 432.20,168.06 428.90,164.76" fill="#1a7a1a" stroke="#2a8a2a" stroke-width="0.6"/>
<polygon points="452.20,166.36 455.50,169.66 452.20,172.96 448.90,169.66" fill="#1a7a1a" stroke="#2a8a2a" stroke-width="0.6"/>
<polygon points="472.20,177.79 475.50,181.09 472.20,184.39 468.90,181.09" fill="#1a7a1a" stroke="#2a8a2a" stroke-width="0.6"/>
<polygon points="480.20,187.05 483.50,190.35 480.20,193.65 476.90,190.35" fill="#1a7a1a" stroke="#2a8a2a" stroke-width="0.6"/>
<polygon points="484.20,191.95 487.50,195.25 484.20,198.55 480.90,195.25" fill="#1a7a1a" stroke="#2a8a2a" stroke-width="0.6"/>
<polygon points="492.20,209.37 495.50,212.67 492.20,215.97 488.90,212.67" fill="#1a7a1a" stroke="#2a8a2a" stroke-width="0.6"/>
<polygon points="512.20,240.41 515.50,243.71 512.20,247.01 508.90,243.71" fill="#1a7a1a" stroke="#2a8a2a" stroke-width="0.6"/>
<polyline points="392.20,164.76 412.20,164.76 432.20,164.76 452.20,165.85 472.20,167.48 480.20,169.11 484.20,257.87 492.20,257.87 512.20,257.87" stroke="#3030c8" stroke-width="1.3" fill="none" />
<circle cx="392.20" cy="164.76" r="3.30" stroke="#3030c8" stroke-width="0.6" fill="#1414e6" />
<circle cx="412.20" cy="164.76" r="3.30" stroke="#3030c8" stroke-width="0.6" fill="#1414e6" />
<circle cx="432.20" cy="164.76" r="3.30" stroke="#3030c8" stroke-width="0.6" fill="#1414e6" />
<circle cx="452.20" cy="165.85" r="3.30" stroke="#3030c8" stroke-width="0.6" fill="#1414e6" />
<circle cx="472.20" cy="167.48" r="3.30" stroke="#3030c8" stroke-width="0.6" fill="#1414e6" />
<circle cx="480.20" cy="169.11" r="3.30" stroke="#3030c8" stroke-width="0.6" fill="#1414e6" />
<circle cx="484.20" cy="257.87" r="3.30" stroke="#3030c8" stroke-width="0.6" fill="#1414e6" />
<circle cx="492.20" cy="257.87" r="3.30" stroke="#3030c8" stroke-width="0.6" fill="#1414e6" />
<circle cx="512.20" cy="257.87" r="3.30" stroke="#3030c8" stroke-width="0.6" fill="#1414e6" />
<rect x="388.60" y="219.00" width="69.30" height="40.00" stroke="none" stroke-width="0" fill="#fff" />
<text x="396.50" y="230.30" font-size="10.2" text-anchor="start" fill="#1a1a1a" font-weight="normal" stroke="#1a1a1a" stroke-width="0.12" textLength="51.5">6-bit eNVM</text>
<line x1="393.80" y1="237.60" x2="412.20" y2="237.60" stroke="#3030c8" stroke-width="1.3" />
<circle cx="403.00" cy="237.60" r="3.30" stroke="#3030c8" stroke-width="0.6" fill="#1414e6" />
<text x="425.00" y="243.30" font-size="10.2" text-anchor="start" fill="#3333bb" font-weight="normal" stroke="#3333bb" stroke-width="0.12" textLength="28.7">Online</text>
<line x1="393.80" y1="251.20" x2="412.20" y2="251.20" stroke="#2a8a2a" stroke-width="1.3" />
<polygon points="403,247.7 406.5,251.2 403,254.7 399.5,251.2" fill="#1a7a1a"/>
<text x="425.00" y="256.30" font-size="10.2" text-anchor="start" fill="#2a8a2a" font-weight="normal" stroke="#2a8a2a" stroke-width="0.12" textLength="30">Offline</text>
<text x="344.20" y="152.80" font-size="12.8" text-anchor="start" fill="#111" font-weight="bold" stroke="#111" stroke-width="0.28" >(e)</text>
<text x="0.20" y="10.60" font-size="12.8" text-anchor="start" fill="#111" font-weight="bold" stroke="#111" stroke-width="0.28" >(a)</text>
<text x="64.50" y="8.10" font-size="7" text-anchor="middle" fill="#1a1a1a" font-weight="bold" stroke="#1a1a1a" stroke-width="0.28" textLength="59">Handwritten Digits</text>
<text x="64.70" y="16.60" font-size="7" text-anchor="middle" fill="#1a1a1a" font-weight="bold" stroke="#1a1a1a" stroke-width="0.28" textLength="64.5">from MNIST dataset</text>
<rect x="32.40" y="17.80" width="64.80" height="43.50" stroke="#dcdcdc" stroke-width="0.6" fill="#fafafa" />
<rect x="33.40" y="18.50" width="11.20" height="20.70" stroke="#c8c8c8" stroke-width="0.8" fill="#fff" />
<rect x="33.40" y="40.00" width="11.20" height="20.60" stroke="#c8c8c8" stroke-width="0.8" fill="#fff" />
<rect x="46.00" y="18.50" width="11.20" height="20.70" stroke="#c8c8c8" stroke-width="0.8" fill="#fff" />
<rect x="46.00" y="40.00" width="11.20" height="20.60" stroke="#c8c8c8" stroke-width="0.8" fill="#fff" />
<rect x="59.00" y="18.50" width="11.30" height="20.70" stroke="#c8c8c8" stroke-width="0.8" fill="#fff" />
<rect x="59.00" y="40.00" width="11.30" height="20.60" stroke="#c8c8c8" stroke-width="0.8" fill="#fff" />
<rect x="72.40" y="18.50" width="11.10" height="20.70" stroke="#c8c8c8" stroke-width="0.8" fill="#fff" />
<rect x="72.40" y="40.00" width="11.10" height="20.60" stroke="#c8c8c8" stroke-width="0.8" fill="#fff" />
<rect x="85.00" y="18.50" width="11.40" height="20.70" stroke="#c8c8c8" stroke-width="0.8" fill="#fff" />
<rect x="85.00" y="40.00" width="11.40" height="20.60" stroke="#c8c8c8" stroke-width="0.8" fill="#fff" />
<text x="0" y="0" font-size="10.5" text-anchor="middle" fill="#151515" stroke="#151515" stroke-width="0.35" transform="translate(39.00,32.75) skewX(-14)" style="font-family:Liberation Sans,sans-serif">0</text>
<text x="0" y="0" font-size="10.5" text-anchor="middle" fill="#151515" stroke="#151515" stroke-width="0.35" transform="translate(51.60,32.75) skewX(-14)" style="font-family:Liberation Sans,sans-serif">1</text>
<text x="0" y="0" font-size="10.5" text-anchor="middle" fill="#151515" stroke="#151515" stroke-width="0.35" transform="translate(64.65,32.75) skewX(-14)" style="font-family:Liberation Sans,sans-serif">2</text>
<text x="0" y="0" font-size="10.5" text-anchor="middle" fill="#151515" stroke="#151515" stroke-width="0.35" transform="translate(77.95,32.75) skewX(-14)" style="font-family:Liberation Sans,sans-serif">3</text>
<text x="0" y="0" font-size="10.5" text-anchor="middle" fill="#151515" stroke="#151515" stroke-width="0.35" transform="translate(90.70,32.75) skewX(-14)" style="font-family:Liberation Sans,sans-serif">4</text>
<text x="0" y="0" font-size="10.5" text-anchor="middle" fill="#151515" stroke="#151515" stroke-width="0.35" transform="translate(39.00,54.20) skewX(-14)" style="font-family:Liberation Sans,sans-serif">5</text>
<text x="0" y="0" font-size="10.5" text-anchor="middle" fill="#151515" stroke="#151515" stroke-width="0.35" transform="translate(51.60,54.20) skewX(-14)" style="font-family:Liberation Sans,sans-serif">6</text>
<text x="0" y="0" font-size="10.5" text-anchor="middle" fill="#151515" stroke="#151515" stroke-width="0.35" transform="translate(64.65,54.20) skewX(-14)" style="font-family:Liberation Sans,sans-serif">7</text>
<text x="0" y="0" font-size="10.5" text-anchor="middle" fill="#151515" stroke="#151515" stroke-width="0.35" transform="translate(77.95,54.20) skewX(-14)" style="font-family:Liberation Sans,sans-serif">8</text>
<text x="0" y="0" font-size="10.5" text-anchor="middle" fill="#151515" stroke="#151515" stroke-width="0.35" transform="translate(90.70,54.20) skewX(-14)" style="font-family:Liberation Sans,sans-serif">9</text>
<circle cx="39.60" cy="72.80" r="4.50" stroke="#3d76b5" stroke-width="0.7" fill="#5b93cf" />
<text x="39.60" y="74.60" font-size="4.5" text-anchor="middle" fill="#dbe8f5" font-weight="normal" stroke="#dbe8f5" stroke-width="0.12" >I</text>
<circle cx="55.60" cy="72.80" r="4.50" stroke="#3d76b5" stroke-width="0.7" fill="#5b93cf" />
<text x="55.60" y="74.60" font-size="4.5" text-anchor="middle" fill="#dbe8f5" font-weight="normal" stroke="#dbe8f5" stroke-width="0.12" >I</text>
<circle cx="71.90" cy="72.80" r="4.50" stroke="#3d76b5" stroke-width="0.7" fill="#5b93cf" />
<text x="71.90" y="74.60" font-size="4.5" text-anchor="middle" fill="#dbe8f5" font-weight="normal" stroke="#dbe8f5" stroke-width="0.12" >I</text>
<circle cx="104.90" cy="72.80" r="4.50" stroke="#3d76b5" stroke-width="0.7" fill="#5b93cf" />
<text x="104.90" y="74.60" font-size="4.5" text-anchor="middle" fill="#dbe8f5" font-weight="normal" stroke="#dbe8f5" stroke-width="0.12" >I</text>
<circle cx="81.50" cy="73.60" r="0.75" stroke="none" stroke-width="1" fill="#333" />
<circle cx="88.20" cy="73.60" r="0.75" stroke="none" stroke-width="1" fill="#333" />
<circle cx="94.30" cy="73.60" r="0.75" stroke="none" stroke-width="1" fill="#333" />
<line x1="24.00" y1="88.80" x2="98.90" y2="88.80" stroke="#444" stroke-width="0.8" />
<line x1="33.10" y1="93.60" x2="120.00" y2="93.60" stroke="#444" stroke-width="0.9" />
<line x1="24.00" y1="103.80" x2="98.90" y2="103.80" stroke="#444" stroke-width="0.8" />
<line x1="33.10" y1="108.90" x2="120.00" y2="108.90" stroke="#444" stroke-width="0.9" />
<line x1="24.00" y1="132.50" x2="98.90" y2="132.50" stroke="#444" stroke-width="0.8" />
<line x1="33.10" y1="137.50" x2="120.00" y2="137.50" stroke="#444" stroke-width="0.9" />
<line x1="39.60" y1="77.30" x2="39.60" y2="142.00" stroke="#222" stroke-width="0.9" />
<line x1="55.60" y1="77.30" x2="55.60" y2="142.00" stroke="#222" stroke-width="0.9" />
<line x1="71.90" y1="77.30" x2="71.90" y2="142.00" stroke="#222" stroke-width="0.9" />
<line x1="104.90" y1="77.30" x2="104.90" y2="142.00" stroke="#222" stroke-width="0.9" />
<path d="M28.60,87.20 L31.40,85.80 L31.40,92.00 L28.40,91.20 Z" fill="#111"/>
<line x1="33.20" y1="84.20" x2="33.20" y2="93.60" stroke="#2a2a2a" stroke-width="1.1" />
<polyline points="33.20,84.20 34.40,83.30 37.00,83.30" stroke="#2a2a2a" stroke-width="1.1" fill="none" />
<path d="M35.20,81.90 L38.70,83.00 L35.40,84.70 Z" fill="#111"/>
<path d="M44.60,87.20 L47.40,85.80 L47.40,92.00 L44.40,91.20 Z" fill="#111"/>
<line x1="49.20" y1="84.20" x2="49.20" y2="93.60" stroke="#2a2a2a" stroke-width="1.1" />
<polyline points="49.20,84.20 50.40,83.30 53.00,83.30" stroke="#2a2a2a" stroke-width="1.1" fill="none" />
<path d="M51.20,81.90 L54.70,83.00 L51.40,84.70 Z" fill="#111"/>
<path d="M60.90,87.20 L63.70,85.80 L63.70,92.00 L60.70,91.20 Z" fill="#111"/>
<line x1="65.50" y1="84.20" x2="65.50" y2="93.60" stroke="#2a2a2a" stroke-width="1.1" />
<polyline points="65.50,84.20 66.70,83.30 69.30,83.30" stroke="#2a2a2a" stroke-width="1.1" fill="none" />
<path d="M67.50,81.90 L71.00,83.00 L67.70,84.70 Z" fill="#111"/>
<path d="M93.90,87.20 L96.70,85.80 L96.70,92.00 L93.70,91.20 Z" fill="#111"/>
<line x1="98.50" y1="84.20" x2="98.50" y2="93.60" stroke="#2a2a2a" stroke-width="1.1" />
<polyline points="98.50,84.20 99.70,83.30 102.30,83.30" stroke="#2a2a2a" stroke-width="1.1" fill="none" />
<path d="M100.50,81.90 L104.00,83.00 L100.70,84.70 Z" fill="#111"/>
<path d="M28.60,102.20 L31.40,100.80 L31.40,107.00 L28.40,106.20 Z" fill="#111"/>
<line x1="33.20" y1="99.20" x2="33.20" y2="108.90" stroke="#2a2a2a" stroke-width="1.1" />
<polyline points="33.20,99.20 34.40,98.30 37.00,98.30" stroke="#2a2a2a" stroke-width="1.1" fill="none" />
<path d="M35.20,96.90 L38.70,98.00 L35.40,99.70 Z" fill="#111"/>
<path d="M44.60,102.20 L47.40,100.80 L47.40,107.00 L44.40,106.20 Z" fill="#111"/>
<line x1="49.20" y1="99.20" x2="49.20" y2="108.90" stroke="#2a2a2a" stroke-width="1.1" />
<polyline points="49.20,99.20 50.40,98.30 53.00,98.30" stroke="#2a2a2a" stroke-width="1.1" fill="none" />
<path d="M51.20,96.90 L54.70,98.00 L51.40,99.70 Z" fill="#111"/>
<path d="M60.90,102.20 L63.70,100.80 L63.70,107.00 L60.70,106.20 Z" fill="#111"/>
<line x1="65.50" y1="99.20" x2="65.50" y2="108.90" stroke="#2a2a2a" stroke-width="1.1" />
<polyline points="65.50,99.20 66.70,98.30 69.30,98.30" stroke="#2a2a2a" stroke-width="1.1" fill="none" />
<path d="M67.50,96.90 L71.00,98.00 L67.70,99.70 Z" fill="#111"/>
<path d="M93.90,102.20 L96.70,100.80 L96.70,107.00 L93.70,106.20 Z" fill="#111"/>
<line x1="98.50" y1="99.20" x2="98.50" y2="108.90" stroke="#2a2a2a" stroke-width="1.1" />
<polyline points="98.50,99.20 99.70,98.30 102.30,98.30" stroke="#2a2a2a" stroke-width="1.1" fill="none" />
<path d="M100.50,96.90 L104.00,98.00 L100.70,99.70 Z" fill="#111"/>
<path d="M28.60,130.90 L31.40,129.50 L31.40,135.70 L28.40,134.90 Z" fill="#111"/>
<line x1="33.20" y1="127.90" x2="33.20" y2="137.50" stroke="#2a2a2a" stroke-width="1.1" />
<polyline points="33.20,127.90 34.40,127.00 37.00,127.00" stroke="#2a2a2a" stroke-width="1.1" fill="none" />
<path d="M35.20,125.60 L38.70,126.70 L35.40,128.40 Z" fill="#111"/>
<path d="M44.60,130.90 L47.40,129.50 L47.40,135.70 L44.40,134.90 Z" fill="#111"/>
<line x1="49.20" y1="127.90" x2="49.20" y2="137.50" stroke="#2a2a2a" stroke-width="1.1" />
<polyline points="49.20,127.90 50.40,127.00 53.00,127.00" stroke="#2a2a2a" stroke-width="1.1" fill="none" />
<path d="M51.20,125.60 L54.70,126.70 L51.40,128.40 Z" fill="#111"/>
<path d="M60.90,130.90 L63.70,129.50 L63.70,135.70 L60.70,134.90 Z" fill="#111"/>
<line x1="65.50" y1="127.90" x2="65.50" y2="137.50" stroke="#2a2a2a" stroke-width="1.1" />
<polyline points="65.50,127.90 66.70,127.00 69.30,127.00" stroke="#2a2a2a" stroke-width="1.1" fill="none" />
<path d="M67.50,125.60 L71.00,126.70 L67.70,128.40 Z" fill="#111"/>
<path d="M93.90,130.90 L96.70,129.50 L96.70,135.70 L93.70,134.90 Z" fill="#111"/>
<line x1="98.50" y1="127.90" x2="98.50" y2="137.50" stroke="#2a2a2a" stroke-width="1.1" />
<polyline points="98.50,127.90 99.70,127.00 102.30,127.00" stroke="#2a2a2a" stroke-width="1.1" fill="none" />
<path d="M100.50,125.60 L104.00,126.70 L100.70,128.40 Z" fill="#111"/>
<text x="12.40" y="91.20" font-size="7" text-anchor="start" fill="#111" font-weight="bold" stroke="#111" stroke-width="0.28" >WL<tspan font-size="4.5" dy="1.6">1</tspan></text>
<text x="12.40" y="106.20" font-size="7" text-anchor="start" fill="#111" font-weight="bold" stroke="#111" stroke-width="0.28" >WL<tspan font-size="4.5" dy="1.6">2</tspan></text>
<text x="12.40" y="134.90" font-size="7" text-anchor="start" fill="#111" font-weight="bold" stroke="#111" stroke-width="0.28" >WL<tspan font-size="4.5" dy="1.6">n</tspan></text>
<circle cx="122.60" cy="93.60" r="4.30" stroke="#d84a30" stroke-width="0.5" fill="#e34c3a" />
<text x="122.60" y="95.00" font-size="4" text-anchor="middle" fill="#f9c8b8" font-weight="normal" stroke="#f9c8b8" stroke-width="0.12" >I</text>
<circle cx="122.60" cy="108.90" r="4.30" stroke="#d84a30" stroke-width="0.5" fill="#e34c3a" />
<text x="122.60" y="110.30" font-size="4" text-anchor="middle" fill="#f9c8b8" font-weight="normal" stroke="#f9c8b8" stroke-width="0.12" >I</text>
<circle cx="122.60" cy="137.50" r="4.30" stroke="#d84a30" stroke-width="0.5" fill="#e34c3a" />
<text x="122.60" y="138.90" font-size="4" text-anchor="middle" fill="#f9c8b8" font-weight="normal" stroke="#f9c8b8" stroke-width="0.12" >I</text>
<circle cx="122.60" cy="117.30" r="0.75" stroke="none" stroke-width="1" fill="#333" />
<circle cx="122.60" cy="121.80" r="0.75" stroke="none" stroke-width="1" fill="#333" />
<circle cx="122.60" cy="126.30" r="0.75" stroke="none" stroke-width="1" fill="#333" />
<circle cx="113.80" cy="90.90" r="1.80" stroke="#e06060" stroke-width="0.8" fill="none" />
<circle cx="128.60" cy="85.50" r="1.90" stroke="#e06060" stroke-width="0.8" fill="none" />
<circle cx="86.20" cy="98.30" r="2.20" stroke="#e06060" stroke-width="0.8" fill="none" />
<circle cx="99.00" cy="96.30" r="1.80" stroke="#e06060" stroke-width="0.8" fill="none" />
<circle cx="128.70" cy="85.40" r="1.90" stroke="#e06060" stroke-width="0.8" fill="none" />
<circle cx="142.60" cy="76.00" r="2.20" stroke="#e06060" stroke-width="0.8" fill="none" />
<circle cx="158.60" cy="65.00" r="2.40" stroke="#e06060" stroke-width="0.8" fill="none" />
<rect x="60.20" y="96.30" width="15.20" height="15.00" stroke="#e04848" stroke-width="0.9" fill="none" />
<path d="M103,35.5 L125,37.6 L125,36 L131,40 L125,44 L125,42.5 L103,44.5 L104.6,40 Z" fill="#fff" stroke="#6b7fa3" stroke-width="0.9" stroke-linejoin="round"/>
<rect x="134.70" y="4.50" width="14.70" height="120.10" stroke="#6f8db0" stroke-width="1.2" fill="#f2f7fc" />
<circle cx="142.60" cy="12.40" r="4.80" stroke="#3d76b5" stroke-width="0.8" fill="#5b93cf" />
<text x="142.60" y="14.20" font-size="4.5" text-anchor="middle" fill="#dbe8f5" font-weight="normal" stroke="#dbe8f5" stroke-width="0.12" >I</text>
<circle cx="142.60" cy="28.00" r="4.80" stroke="#3d76b5" stroke-width="0.8" fill="#5b93cf" />
<text x="142.60" y="29.80" font-size="4.5" text-anchor="middle" fill="#dbe8f5" font-weight="normal" stroke="#dbe8f5" stroke-width="0.12" >I</text>
<circle cx="142.60" cy="44.00" r="4.80" stroke="#3d76b5" stroke-width="0.8" fill="#5b93cf" />
<text x="142.60" y="45.80" font-size="4.5" text-anchor="middle" fill="#dbe8f5" font-weight="normal" stroke="#dbe8f5" stroke-width="0.12" >I</text>
<circle cx="142.60" cy="98.60" r="4.80" stroke="#3d76b5" stroke-width="0.8" fill="#5b93cf" />
<text x="142.60" y="100.40" font-size="4.5" text-anchor="middle" fill="#dbe8f5" font-weight="normal" stroke="#dbe8f5" stroke-width="0.12" >I</text>
<circle cx="142.60" cy="116.00" r="4.80" stroke="#3d76b5" stroke-width="0.8" fill="#5b93cf" />
<text x="142.60" y="117.80" font-size="4.5" text-anchor="middle" fill="#dbe8f5" font-weight="normal" stroke="#dbe8f5" stroke-width="0.12" >I</text>
<circle cx="142.60" cy="62.00" r="0.90" stroke="none" stroke-width="1" fill="#4a6e99" />
<circle cx="142.60" cy="73.00" r="0.90" stroke="none" stroke-width="1" fill="#4a6e99" />
<circle cx="142.60" cy="84.30" r="0.90" stroke="none" stroke-width="1" fill="#4a6e99" />
<text x="143.00" y="133.50" font-size="6.9" text-anchor="middle" fill="#222" font-weight="bold" stroke="#222" stroke-width="0.28" >Input</text>
<text x="143.00" y="141.00" font-size="6.9" text-anchor="middle" fill="#222" font-weight="bold" stroke="#222" stroke-width="0.28" >layer</text>
<line x1="149.40" y1="12.40" x2="195.20" y2="31.30" stroke="#5a84a4" stroke-width="0.75" />
<line x1="149.40" y1="12.40" x2="195.20" y2="103.20" stroke="#5a84a4" stroke-width="0.75" />
<line x1="149.40" y1="28.00" x2="195.20" y2="31.30" stroke="#5a84a4" stroke-width="0.75" />
<line x1="149.40" y1="28.00" x2="195.20" y2="103.20" stroke="#5a84a4" stroke-width="0.75" />
<line x1="149.40" y1="44.00" x2="195.20" y2="31.30" stroke="#5a84a4" stroke-width="0.75" />
<line x1="149.40" y1="44.00" x2="195.20" y2="103.20" stroke="#5a84a4" stroke-width="0.75" />
<line x1="149.40" y1="98.60" x2="195.20" y2="31.30" stroke="#5a84a4" stroke-width="0.75" />
<line x1="149.40" y1="98.60" x2="195.20" y2="103.20" stroke="#5a84a4" stroke-width="0.75" />
<line x1="149.40" y1="116.00" x2="195.20" y2="31.30" stroke="#5a84a4" stroke-width="0.75" />
<line x1="149.40" y1="116.00" x2="195.20" y2="103.20" stroke="#5a84a4" stroke-width="0.75" />
<circle cx="195.20" cy="31.30" r="1.10" stroke="none" stroke-width="1" fill="#3c5f86" />
<circle cx="195.20" cy="103.20" r="1.10" stroke="none" stroke-width="1" fill="#3c5f86" />
<circle cx="174.60" cy="52.50" r="6.10" stroke="#e07676" stroke-width="0.95" fill="#fff" />
<text x="174.50" y="55.20" font-size="7.4" text-anchor="middle" fill="#111" font-weight="bold" stroke="#111" stroke-width="0.28" >W<tspan font-size="5">ij</tspan></text>
<line x1="276.80" y1="31.20" x2="319.20" y2="20.70" stroke="#eb9a8c" stroke-width="0.75" />
<line x1="276.80" y1="31.20" x2="319.20" y2="38.50" stroke="#eb9a8c" stroke-width="0.75" />
<line x1="276.80" y1="31.20" x2="319.20" y2="55.70" stroke="#eb9a8c" stroke-width="0.75" />
<line x1="276.80" y1="31.20" x2="319.20" y2="114.60" stroke="#eb9a8c" stroke-width="0.75" />
<line x1="276.40" y1="102.20" x2="319.20" y2="20.70" stroke="#eb9a8c" stroke-width="0.75" />
<line x1="276.40" y1="102.20" x2="319.20" y2="114.60" stroke="#eb9a8c" stroke-width="0.75" />
<line x1="276.00" y1="42.00" x2="319.20" y2="20.70" stroke="#eb9a8c" stroke-width="0.75" />
<line x1="276.00" y1="52.50" x2="319.20" y2="20.70" stroke="#eb9a8c" stroke-width="0.75" />
<circle cx="318.80" cy="21.00" r="1.30" stroke="none" stroke-width="1" fill="#d85a5a" />
<rect x="196.70" y="23.40" width="79.50" height="88.90" stroke="#e2b0ac" stroke-width="1.0" fill="#fefbf9" />
<line x1="211.80" y1="23.40" x2="211.80" y2="112.30" stroke="#e2b0ac" stroke-width="1.0" />
<circle cx="204.30" cy="31.20" r="4.40" stroke="#cf4030" stroke-width="0.6" fill="#e34c3a" />
<text x="204.30" y="32.60" font-size="3.8" text-anchor="middle" fill="#f9c8b8" font-weight="normal" stroke="#f9c8b8" stroke-width="0.12" >h</text>
<circle cx="204.30" cy="44.40" r="4.40" stroke="#cf4030" stroke-width="0.6" fill="#e34c3a" />
<text x="204.30" y="45.80" font-size="3.8" text-anchor="middle" fill="#f9c8b8" font-weight="normal" stroke="#f9c8b8" stroke-width="0.12" >h</text>
<circle cx="204.30" cy="57.40" r="4.40" stroke="#cf4030" stroke-width="0.6" fill="#e34c3a" />
<text x="204.30" y="58.80" font-size="3.8" text-anchor="middle" fill="#f9c8b8" font-weight="normal" stroke="#f9c8b8" stroke-width="0.12" >h</text>
<circle cx="204.30" cy="103.60" r="4.40" stroke="#cf4030" stroke-width="0.6" fill="#e34c3a" />
<text x="204.30" y="105.00" font-size="3.8" text-anchor="middle" fill="#f9c8b8" font-weight="normal" stroke="#f9c8b8" stroke-width="0.12" >h</text>
<circle cx="204.30" cy="73.40" r="0.80" stroke="none" stroke-width="1" fill="#d05050" />
<circle cx="204.30" cy="82.00" r="0.80" stroke="none" stroke-width="1" fill="#d05050" />
<circle cx="204.30" cy="91.00" r="0.80" stroke="none" stroke-width="1" fill="#d05050" />
<rect x="221.30" y="34.60" width="45.60" height="22.40" stroke="#ebb48e" stroke-width="1.2" fill="#fff" />
<rect x="222.30" y="35.90" width="43.40" height="19.80" stroke="#b0a090" stroke-width="0.4" fill="none" />
<text x="0.00" y="0.00" font-size="20" text-anchor="start" fill="#111" font-weight="normal" stroke="#111" stroke-width="0.12" style="font-family:Liberation Serif,serif" transform="translate(223.8,54.5) scale(1.2,1.22)">Σ</text>
<text x="241.40" y="49.00" font-size="12" text-anchor="start" fill="#111" font-weight="normal" stroke="#111" stroke-width="0.12" style="font-family:Liberation Serif,serif" font-style="italic">I</text>
<text x="244.20" y="52.40" font-size="5.5" text-anchor="start" fill="#111" font-weight="normal" stroke="#111" stroke-width="0.12" style="font-family:Liberation Serif,serif" font-style="italic">i</text>
<text x="245.60" y="49.00" font-size="12.5" text-anchor="start" fill="#111" font-weight="normal" stroke="#111" stroke-width="0.12" textLength="11.5" lengthAdjust="spacingAndGlyphs" style="font-family:Liberation Serif,serif" font-style="italic">W</text>
<text x="256.40" y="53.60" font-size="6" text-anchor="start" fill="#111" font-weight="normal" stroke="#111" stroke-width="0.12" style="font-family:Liberation Serif,serif" font-style="italic">ij</text>
<text x="244.00" y="71.80" font-size="7" text-anchor="middle" fill="#d83a3a" font-weight="bold" stroke="#d83a3a" stroke-width="0.28" textLength="27">RELU(x)</text>
<rect x="221.50" y="75.60" width="45.20" height="27.20" stroke="#e8b896" stroke-width="1.2" fill="#fff" />
<line x1="243.40" y1="77.00" x2="243.40" y2="101.50" stroke="#7a9a9a" stroke-width="0.8" />
<line x1="224.00" y1="97.00" x2="263.00" y2="97.00" stroke="#667" stroke-width="0.8" />
<path d="M264.5,97 L261.5,95.6 L261.5,98.4 Z" fill="#667"/>
<polyline points="224.00,97.00 243.40,97.00 260.00,80.00" stroke="#d03030" stroke-width="1.5" fill="none" />
<text x="235.40" y="137.30" font-size="7" text-anchor="middle" fill="#111" font-weight="bold" stroke="#111" stroke-width="0.28" textLength="40.8">Hidden layer</text>
<rect x="320.40" y="12.60" width="15.20" height="110.70" stroke="#e4a8ca" stroke-width="1.0" fill="#fefafc" />
<circle cx="328.00" cy="20.70" r="5.10" stroke="#e482bc" stroke-width="0.5" fill="#ec92c8" />
<text x="328.00" y="23.10" font-size="6.6" text-anchor="middle" fill="#fbe0f0" font-weight="bold" stroke="#fbe0f0" stroke-width="0.28" >0</text>
<circle cx="328.00" cy="38.50" r="5.10" stroke="#e482bc" stroke-width="0.5" fill="#ec92c8" />
<text x="328.00" y="40.90" font-size="6.6" text-anchor="middle" fill="#fbe0f0" font-weight="bold" stroke="#fbe0f0" stroke-width="0.28" >1</text>
<circle cx="328.00" cy="55.70" r="5.10" stroke="#e482bc" stroke-width="0.5" fill="#ec92c8" />
<text x="328.00" y="58.10" font-size="6.6" text-anchor="middle" fill="#fbe0f0" font-weight="bold" stroke="#fbe0f0" stroke-width="0.28" >2</text>
<circle cx="328.00" cy="114.60" r="5.10" stroke="#e482bc" stroke-width="0.5" fill="#ec92c8" />
<text x="328.00" y="117.00" font-size="6.6" text-anchor="middle" fill="#fbe0f0" font-weight="bold" stroke="#fbe0f0" stroke-width="0.28" >9</text>
<circle cx="327.80" cy="75.20" r="1.10" stroke="none" stroke-width="1" fill="#b07898" />
<circle cx="327.80" cy="87.50" r="1.10" stroke="none" stroke-width="1" fill="#b07898" />
<circle cx="327.80" cy="99.50" r="1.10" stroke="none" stroke-width="1" fill="#b07898" />
<text x="328.00" y="133.00" font-size="6.9" text-anchor="middle" fill="#222" font-weight="bold" stroke="#222" stroke-width="0.28" >Output</text>
<text x="328.00" y="141.40" font-size="6.9" text-anchor="middle" fill="#222" font-weight="bold" stroke="#222" stroke-width="0.28" >layer</text>
</svg></body></html>
